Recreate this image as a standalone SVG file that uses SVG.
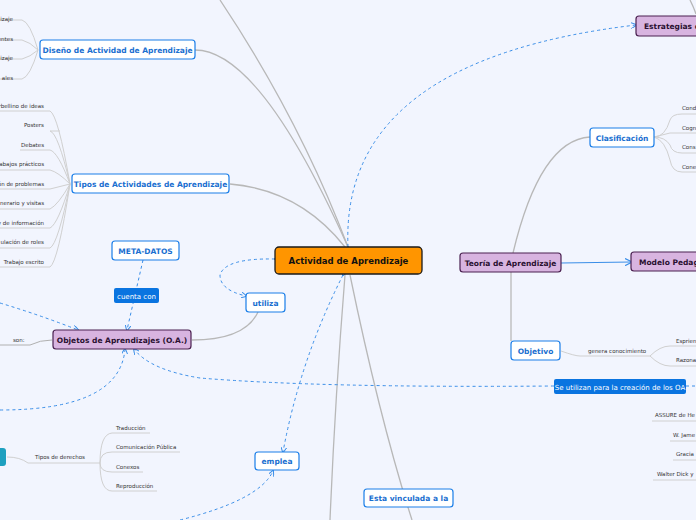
<svg xmlns="http://www.w3.org/2000/svg" width="696" height="520" viewBox="0 0 696 520">
<defs>
<marker id="ar" markerWidth="6" markerHeight="6" refX="5" refY="3" orient="auto"><path d="M0,0 L6,3 L0,6" fill="none" stroke="#3a8ee8" stroke-width="1"/></marker>
<style>
text{font-family:"DejaVu Sans","Noto Sans",sans-serif}
.w{fill:#fff;stroke:#1a7ee8;stroke-width:1.2}
.wt{fill:#1a6fd0;font-size:7.5px;font-weight:bold;text-anchor:middle}
.p{fill:#d8b4e0;stroke:#4a2050;stroke-width:1.2}
.pt{fill:#2a1030;font-size:7.5px;font-weight:bold;text-anchor:middle}
.b{fill:#0a74e0}
.bt{fill:#fff;font-size:7px;text-anchor:middle}
.it{fill:#333;font-size:5.5px}
.g{fill:none;stroke:#b8b8b8;stroke-width:1.3}
.gl{fill:none;stroke:#d0d0d0;stroke-width:1}
.d{fill:none;stroke:#3a8ee8;stroke-width:1;stroke-dasharray:3,3}
</style>
</defs>
<rect width="696" height="520" fill="#f2f5fe"/>
<g id="connectors">
<path class="g" d="M220,0 Q300,120 348,247"/>
<path class="g" d="M195,50 Q260,50 348,247"/>
<path class="g" d="M230,184 Q300,190 345,247"/>
<path class="g" d="M345,275 Q335,400 330,520"/>
<path class="g" d="M350,275 Q380,420 412,520"/>
<path class="g" d="M690,0 Q694,8 696,14"/>
<path class="g" d="M192,340 Q245,340 258,312"/>
<path class="gl" d="M0,20 L22,20 Q30,22 38,50 M0,40 L22,40 Q30,42 38,50 M0,59 L22,59 Q30,57 38,50 M0,79 L22,79 Q30,77 38,50"/>
<path class="gl" d="M0,111 L50,111 Q58,115 70,184 M60,131 L50,131 Q58,133 70,184 M20,150 L50,150 Q58,152 70,184 M0,170 L50,170 Q58,172 70,184 M0,189 L50,189 Q58,187 70,184 M0,209 L50,209 Q58,205 70,184 M0,228 L50,228 Q58,224 70,184 M0,248 L50,248 Q58,244 70,184 M0,267 L50,267 Q58,262 70,184"/>
<path class="gl" d="M0,345 L30,345 Q40,340 52,340" style="stroke:#b0b0b0"/>
<path class="gl" d="M7,457 Q20,457 28,463 L90,463 L100,463 Q100,434 112,433 L150,433 M100,463 Q100,452 112,452 L180,452 M100,463 Q100,472 112,472 L143,472 M100,463 Q100,491 112,491 L157,491"/>
<path class="g" d="M513,253 Q540,140 590,137"/>
<path class="g" d="M511,272 L511,341"/>
<path d="M561,263 L631,262" stroke="#3a8ee8" stroke-width="1.2" fill="none" marker-end="url(#ar)"/>
<path class="gl" d="M654,137 Q665,137 670,120 Q672,114 682,114 L696,114 M654,137 L670,133 L696,133 M654,137 Q665,137 670,145 Q672,153 682,153 L696,153 M654,137 Q665,140 670,160 Q672,172 682,172 L696,172"/>
<path class="gl" d="M561,351 Q575,356 580,356 L650,356 Q660,346 670,346 L696,346 M650,356 Q660,366 670,366 L696,366"/>
<path class="gl" d="M652,421 L696,421 M670,441 L696,441 M673,460 L696,460 M653,480 L696,480"/>
<path class="d" d="M348,247 Q340,60 636,25" marker-start="url(#ar)" marker-end="url(#ar)"/>
<path class="d" d="M275,259 Q225,258 220,275 Q220,290 246,296" marker-start="url(#ar)" marker-end="url(#ar)"/>
<path class="d" d="M143,260 L127,330" marker-end="url(#ar)"/>
<path class="d" d="M0,303 Q40,315 78,330" marker-end="url(#ar)"/>
<path class="d" d="M0,410 Q120,410 125,349" marker-end="url(#ar)"/>
<path class="d" d="M554,386 Q320,388 200,378 Q150,370 134,349" marker-end="url(#ar)"/>
<path class="d" d="M686,386 L696,386"/>
<path class="d" d="M343,275 Q300,360 283,452" marker-start="url(#ar)" marker-end="url(#ar)"/>
<path class="d" d="M180,520 Q260,500 273,471" marker-end="url(#ar)"/>
</g>
<g id="center"><rect x="275" y="247" width="147" height="27" rx="4" fill="#ff9500" stroke="#1a1a1a" stroke-width="1.3"/><text x="348.5" y="264" font-size="8.5" font-weight="bold" text-anchor="middle" fill="#111">Actividad de Aprendizaje</text></g>
<g id="diseno"><rect class="w" x="40" y="40" width="155" height="19" rx="3"/><text class="wt" x="117.5" y="52.5">Diseño de Actividad de Aprendizaje</text></g>
<g id="diseno-items" class="it"><text x="13" y="21" text-anchor="end">izaje</text><text x="13" y="41" text-anchor="end">entes</text><text x="13" y="60" text-anchor="end">izaje</text><text x="13" y="80" text-anchor="end">ales</text></g>
<g id="tipos"><rect class="w" x="72" y="174" width="157" height="19" rx="3"/><text class="wt" x="150.5" y="186.5">Tipos de Actividades de Aprendizaje</text></g>
<g id="tipos-items" class="it" text-anchor="end"><text x="44" y="108">rbellino de ideas</text><text x="44" y="127">Posters</text><text x="44" y="147">Debates</text><text x="44" y="166">abajos prácticos</text><text x="44" y="186">ón de problemas</text><text x="44" y="205">nerario y visitas</text><text x="44" y="225">y de información</text><text x="44" y="244">ulación de roles</text><text x="44" y="264">Trabajo escrito</text></g>
<g id="metadatos"><rect class="w" x="112" y="241" width="67" height="19" rx="3"/><text class="wt" x="145.5" y="253.5">META-DATOS</text></g>
<g id="cuenta"><rect class="b" x="114" y="288" width="45" height="15" rx="2"/><text class="bt" x="136.5" y="298.5">cuenta con</text></g>
<g id="oa"><rect class="p" x="53" y="330" width="138" height="19" rx="3"/><text class="pt" x="122" y="342.5">Objetos de Aprendizajes (O.A.)</text></g>
<g id="son"><text class="it" x="13" y="342">son:</text></g>
<g id="utiliza"><rect class="w" x="246" y="293" width="39" height="19" rx="3"/><text class="wt" x="265.5" y="305.5">utiliza</text></g>
<g id="derechos"><rect x="-5" y="448" width="11" height="18" rx="3" fill="#1ea0c0"/><text class="it" x="35" y="459">Tipos de derechos</text></g>
<g id="derechos-items" class="it"><text x="116" y="430">Traducción</text><text x="116" y="449">Comunicación Pública</text><text x="116" y="469">Conexos</text><text x="116" y="488">Reproducción</text></g>
<g id="emplea"><rect class="w" x="255" y="452" width="44" height="18" rx="3"/><text class="wt" x="277" y="464">emplea</text></g>
<g id="vinculada"><rect class="w" x="364" y="489" width="89" height="18" rx="3"/><text class="wt" x="408.5" y="501">Esta vinculada a la</text></g>
<g id="estrategias"><rect class="p" x="636" y="16" width="70" height="20" rx="3"/><text class="pt" x="644" y="29" style="text-anchor:start">Estrategias d</text></g>
<g id="teoria"><rect class="p" x="460" y="253" width="101" height="19" rx="3"/><text class="pt" x="510.5" y="265.5">Teoría de Aprendizaje</text></g>
<g id="modelo"><rect class="p" x="631" y="252" width="75" height="19" rx="3"/><text class="pt" x="639" y="264.5" style="text-anchor:start">Modelo Pedagó</text></g>
<g id="clasificacion"><rect class="w" x="590" y="128" width="64" height="19" rx="3"/><text class="wt" x="622" y="140.5">Clasificación</text></g>
<g id="clas-items" class="it"><text x="682" y="110">Cond</text><text x="682" y="130">Cogn</text><text x="682" y="149">Cons</text><text x="682" y="169">Cone</text></g>
<g id="objetivo"><rect class="w" x="511" y="341" width="49" height="19" rx="3"/><text class="wt" x="535.5" y="353.5">Objetivo</text></g>
<g id="genera" class="it"><text x="588" y="353">genera conocimiento</text><text x="676" y="343">Esprien</text><text x="676" y="362">Razona</text></g>
<g id="seutilizan"><rect class="b" x="554" y="379" width="132" height="15" rx="2"/><text class="bt" x="620" y="389.5">Se utilizan para la creación de los OA</text></g>
<g id="modelos-items" class="it"><text x="655" y="417">ASSURE de He</text><text x="673" y="437">W. Jame</text><text x="676" y="456">Gracia</text><text x="657" y="476">Walter Dick y</text></g>
</svg>
